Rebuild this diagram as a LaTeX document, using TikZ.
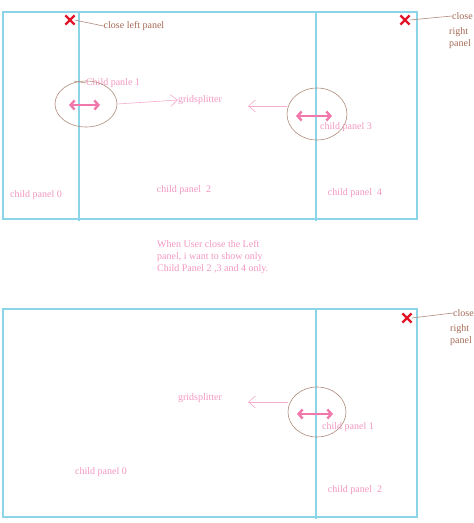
\documentclass[tikz,border=0pt]{standalone}
\usepackage{fontspec}
\setmainfont{Liberation Serif}
\usetikzlibrary{arrows.meta,shapes.geometric,shapes.misc}

\definecolor{panelblue}{RGB}{140,212,232}
\definecolor{notepink}{RGB}{242,150,192}
\definecolor{dragpink}{RGB}{240,120,170}
\definecolor{notebrown}{RGB}{165,105,85}
\definecolor{scribble}{RGB}{175,140,125}
\definecolor{markred}{RGB}{225,20,40}

\tikzset{
  panel/.style={draw=panelblue, line width=2.6pt},
  pinktext/.style={text=notepink, font=\fontsize{10}{12}\selectfont, inner sep=0pt},
  browntext/.style={text=notebrown, font=\fontsize{10}{12}\selectfont, inner sep=0pt},
  closemark/.style={cross out, draw=markred, line width=2.2pt, minimum size=7pt, inner sep=0pt},
  loopmark/.style={ellipse, draw=scribble, line width=0.6pt, inner sep=0pt},
  pointer/.style={draw=notepink!80, line width=0.6pt, -{Straight Barb[length=7pt,width=12pt]}},
  dragarrow/.style={draw=dragpink, line width=2.4pt, {Straight Barb[length=4pt,width=9pt]}-{Straight Barb[length=4pt,width=9pt]}},
  greyline/.style={draw=scribble, line width=0.6pt}
}

\begin{document}
\begin{tikzpicture}[x=1pt, y=-1pt]
  \useasboundingbox (0,0) rectangle (474,523);

  % --- top layout: five child panels ---
  \draw[panel] (3,12) rectangle (417,219);
  \foreach \x in {79,316} {
    \draw[panel] (\x,12) -- (\x,221);
  }

  % --- top close marks ---
  \node[closemark] (closeL) at (70,20) {};
  \node[browntext] (closeLtext) at (134,26) {close left panel};
  \draw[greyline] (closeL.east) -- (closeLtext.west);

  \node[closemark] (closeR) at (405,20) {};
  \node[browntext, anchor=west] (closeRtext) at (452,16) {close};
  \node[browntext, anchor=north west, align=left] (closeRmore) at (449,27) {right\\panel};
  \draw[greyline] (closeR.east) -- (closeRtext.west);

  % --- top splitters ---
  \node[pinktext] (panleA) at (113,83) {Child panle 1};
  \draw[greyline] (panleA.west) -- ++(-12,-2);
  \node[loopmark, minimum width=62pt, minimum height=46pt] (loopA) at (86,104) {};
  \draw[dragarrow] ([xshift=-17pt,yshift=-1pt]loopA.center) -- ([xshift=14pt,yshift=-1pt]loopA.center);
  \node[pinktext] (gsA) at (200,100) {gridsplitter};
  \draw[pointer] (loopA.east) -- (gsA.west);

  \node[loopmark, minimum width=60pt, minimum height=52pt] (loopB) at (317,114) {};
  \draw[dragarrow] ([xshift=-21pt,yshift=-2pt]loopB.center) -- ([xshift=15pt,yshift=-2pt]loopB.center);
  \coordinate (tipB) at (248,106);
  \draw[pointer] (loopB.west |- tipB) -- (tipB);
  \node[pinktext] (panelB3) at (346,127) {child panel 3};

  % --- top panel labels ---
  \foreach \name/\x/\y/\txt in {p0/36/195/{child panel 0}, p2/184/190/{child panel\ \ 2}, p4/355/193/{child panel\ \ 4}} {
    \node[pinktext] (\name) at (\x,\y) {\txt};
  }

  % --- note ---
  \node[pinktext, anchor=north west, align=left] (note) at (157,240)
    {When User close the Left\\panel, i want to show only\\Child Panel 2 ,3 and 4 only.};

  % --- bottom layout: left panel closed ---
  \draw[panel] (3,309) rectangle (417,517);
  \draw[panel] (316,309) -- (316,519);

  \node[closemark] (closeR2) at (407,318) {};
  \node[browntext, anchor=west] (closeR2text) at (453,313) {close};
  \node[browntext, anchor=north west, align=left] (closeR2more) at (450,324) {right\\panel};
  \draw[greyline] (closeR2.east) -- (closeR2text.west);

  \node[pinktext] (gsC) at (200,398) {gridsplitter};
  \node[loopmark, minimum width=58pt, minimum height=50pt] (loopC) at (317,412) {};
  \draw[dragarrow] ([xshift=-20pt,yshift=-2pt]loopC.center) -- ([xshift=16pt,yshift=-2pt]loopC.center);
  \coordinate (tipC) at (248,402);
  \draw[pointer] (loopC.west |- tipC) -- (tipC);

  \foreach \name/\x/\y/\txt in {q1/348/427/{child panel 1}, q0/101/472/{child panel 0}, q2/355/490/{child panel\ \ 2}} {
    \node[pinktext] (\name) at (\x,\y) {\txt};
  }
\end{tikzpicture}
\end{document}
